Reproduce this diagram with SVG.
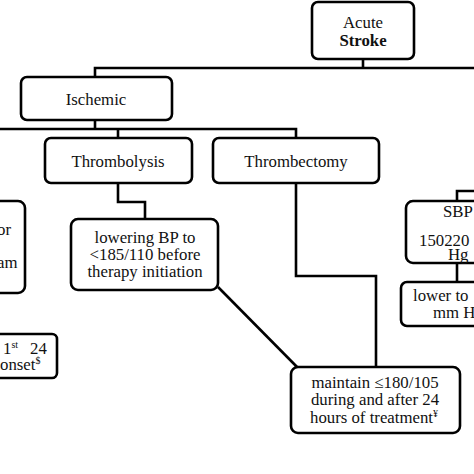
<svg xmlns="http://www.w3.org/2000/svg" width="474" height="474" viewBox="0 0 474 474">
<style>
.box{fill:#fff;stroke:#000;stroke-width:2.6}
.ln{fill:none;stroke:#000;stroke-width:2.6}
text{font-family:"Liberation Serif","Times New Roman",serif;font-size:16.8px;fill:#111}
.c{text-anchor:middle}
.sup{font-size:10px}
</style>
<rect width="474" height="474" fill="#fff"/>
<g id="connectors">
<polyline class="ln" points="363,59 363,68"/>
<polyline class="ln" points="95,77 95,68 476,68"/>
<polyline class="ln" points="95,120 95,129"/>
<polyline class="ln" points="-2,129 296,129 296,138"/>
<polyline class="ln" points="118,129 118,138"/>
<polyline class="ln" points="118,183 118,202 145,202 145,219"/>
<polyline class="ln" points="296,183 296,276 376,276 376,367"/>
<line class="ln" x1="218" y1="287" x2="303" y2="373"/>
<polyline class="ln" points="457,201 457,191 476,191"/>
<polyline class="ln" points="457,263 457,282"/>
</g>
<g id="acute-stroke">
<rect class="box" x="312" y="2" width="102" height="57" rx="6"/>
<text class="c" x="363" y="28">Acute</text>
<text class="c" x="363" y="46" font-weight="bold">Stroke</text>
</g>
<g id="ischemic">
<rect class="box" x="21" y="77" width="151" height="43" rx="6"/>
<text class="c" x="96" y="105">Ischemic</text>
</g>
<g id="thrombolysis">
<rect class="box" x="45" y="138" width="147" height="45" rx="6"/>
<text class="c" x="118" y="167">Thrombolysis</text>
</g>
<g id="thrombectomy">
<rect class="box" x="213" y="138" width="166" height="45" rx="6"/>
<text class="c" x="296" y="167">Thrombectomy</text>
</g>
<g id="lowering-bp">
<rect class="box" x="71" y="219" width="147" height="71" rx="7"/>
<text class="c" x="145" y="243">lowering BP to</text>
<text class="c" x="145" y="260">&lt;185/110 before</text>
<text class="c" x="145" y="277">therapy initiation</text>
</g>
<g id="maintain">
<rect class="box" x="291" y="367" width="169" height="66" rx="7"/>
<text class="c" x="375" y="388">maintain ≤180/105</text>
<text class="c" x="375" y="405">during and after 24</text>
<text class="c" x="374" y="423">hours of treatment<tspan class="sup" dy="-6">¥</tspan></text>
</g>
<g id="left-box-1">
<rect class="box" x="-100" y="201" width="125" height="92" rx="7"/>
<text x="-3" y="235">or</text>
<text x="-3" y="268">am</text>
</g>
<g id="left-box-2">
<rect class="box" x="-100" y="334" width="157" height="44" rx="5"/>
<text x="3" y="354">1<tspan class="sup" dy="-6">st</tspan><tspan dy="6" x="30">24</tspan></text>
<text x="0" y="370">onset<tspan class="sup" dy="-6">$</tspan></text>
</g>
<g id="sbp-box">
<rect class="box" x="406" y="201" width="120" height="62" rx="7"/>
<text x="443" y="217">SBP</text>
<text x="419" y="246">150220</text>
<text x="448" y="260">Hg</text>
</g>
<g id="lower-box">
<rect class="box" x="401" y="282" width="120" height="44" rx="6"/>
<text x="413" y="301">lower  to</text>
<text x="433" y="318">mm H</text>
</g>
</svg>
